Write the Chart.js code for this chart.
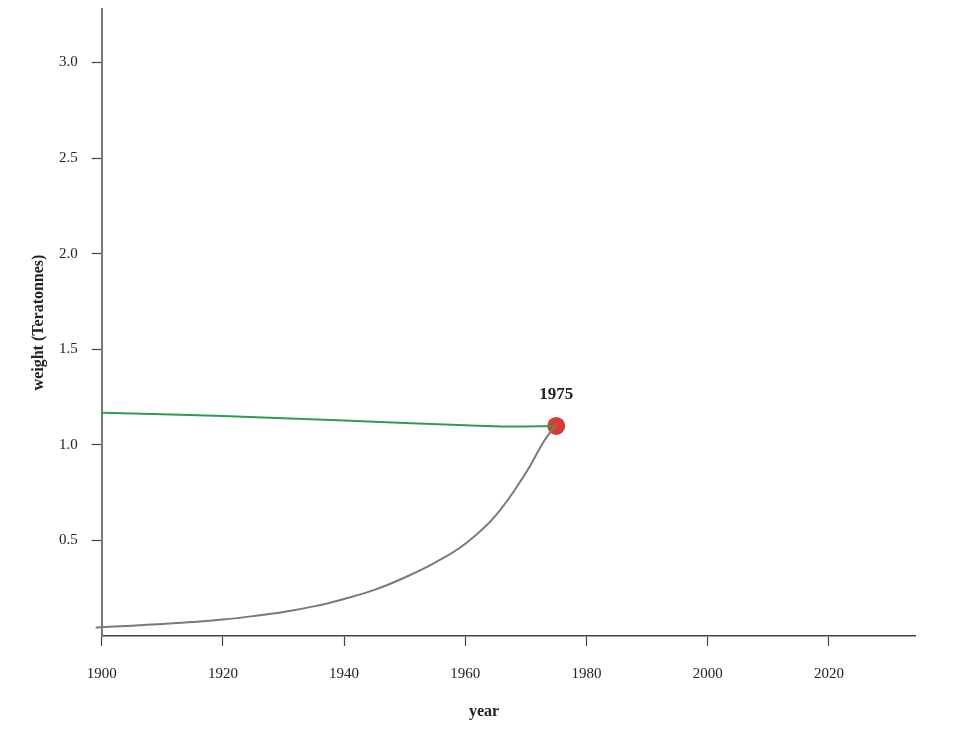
<!DOCTYPE html>
<html>
<head>
<meta charset="utf-8">
<script src="https://cdn.jsdelivr.net/npm/chart.js@4"></script>
<style>
  body { margin: 0; background: #fff; }
  #c { display: block; }
</style>
</head>
<body>
<canvas id="c" width="969" height="750"></canvas>
<script>
// grey curve: rise up to the marked year
const riseYears = [1899, 1905, 1910, 1915, 1920, 1925, 1930, 1935, 1940, 1945, 1950, 1955, 1960, 1965, 1970, 1973, 1975];
const riseValues = [0.045, 0.054, 0.063, 0.073, 0.086, 0.104, 0.126, 0.155, 0.194, 0.241, 0.306, 0.384, 0.483, 0.63, 0.854, 1.02, 1.105];

// green curve: flat-ish line up to the marked year
const flatYears = [1900, 1920, 1940, 1960, 1967, 1975];
const flatValues = [1.168, 1.151, 1.127, 1.103, 1.096, 1.099];

const markYear = 1975;
const markValue = 1.099;

const xTicks = [1900, 1920, 1940, 1960, 1980, 2000, 2020];
const yTicks = [0.5, 1.0, 1.5, 2.0, 2.5, 3.0];

const serif = '"Liberation Serif", "DejaVu Serif", serif';

const toPoints = (xs, ys) => xs.map((x, i) => ({ x: x, y: ys[i] }));

// draws the year label over the dot and the x axis title
const labels = {
    id: 'labels',
    afterDatasetsDraw(chart) {
        const c = chart.ctx;
        const xs = chart.scales.x, ys = chart.scales.y;
        c.save();
        c.fillStyle = '#222';
        c.font = 'bold 17px ' + serif;
        c.textAlign = 'center';
        c.textBaseline = 'middle';
        c.fillText(String(markYear), xs.getPixelForValue(markYear), ys.getPixelForValue(markValue) - 31);
        c.font = 'bold 16px ' + serif;
        c.fillText('year', 484, 712);
        c.restore();
    }
};

new Chart(document.getElementById('c'), {
    type: 'line',
    data: {
        datasets: [{
            data: toPoints(riseYears, riseValues),
            borderColor: '#7a7a7a',
            borderWidth: 2,
            pointRadius: 0,
            tension: 0.4,
            clip: false
        }, {
            data: toPoints(flatYears, flatValues),
            borderColor: '#2a9d55',
            borderWidth: 2,
            pointRadius: 0,
            tension: 0.4,
            clip: false
        }, {
            data: [{ x: markYear, y: markValue }],
            showLine: false,
            pointRadius: 9,
            pointBackgroundColor: '#d93a34',
            pointBorderWidth: 0,
            clip: false
        }]
    },
    options: {
        responsive: false,
        animation: false,
        layout: { padding: { top: 7, right: 54, bottom: 0, left: 0 } },
        scales: {
            x: {
                type: 'linear',
                min: 1900,
                max: 2034.2,
                afterFit: s => { s.height = 114; s.paddingLeft = 0; s.paddingRight = 0; },
                afterBuildTicks: s => { s.ticks = xTicks.map(v => ({ value: v })); },
                grid: { drawOnChartArea: false, tickLength: 10, tickColor: '#444', tickWidth: 1.2 },
                border: { color: '#444', width: 1.5 },
                ticks: {
                    padding: 19,
                    color: '#222',
                    font: { family: serif, size: 15 },
                    callback: v => String(v)
                }
            },
            y: {
                min: 0,
                max: 3.28,
                afterFit: s => { s.width = 101.7; s.paddingTop = 0; s.paddingBottom = 0; },
                afterBuildTicks: s => { s.ticks = yTicks.map(v => ({ value: v })); },
                grid: { drawOnChartArea: false, tickLength: 10, tickColor: '#444', tickWidth: 1.2 },
                border: { color: '#777', width: 2 },
                ticks: {
                    padding: 14,
                    color: '#222',
                    font: { family: serif, size: 15 },
                    callback: v => v.toFixed(1)
                },
                title: {
                    display: true,
                    text: 'weight (Teratonnes)',
                    color: '#222',
                    font: { family: serif, size: 16, weight: 'bold' },
                    padding: { top: 29 }
                }
            }
        },
        plugins: {
            legend: { display: false },
            tooltip: { enabled: false }
        }
    },
    plugins: [labels]
});
</script>
</body>
</html>
